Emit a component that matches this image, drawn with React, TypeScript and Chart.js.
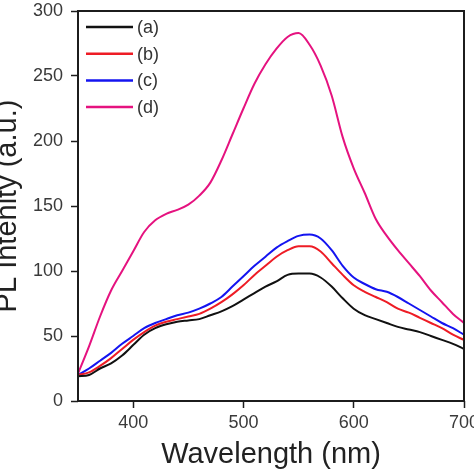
import React, { useEffect, useRef } from "react";
import { Chart, registerables } from "chart.js";

Chart.register(...registerables);

// Emission wavelength grid (nm)
const wavelengths = [
  350, 360, 370, 380, 390, 400, 410, 420, 430, 440, 450, 460, 470, 480, 490, 500, 510, 520,
  530, 540, 550, 560, 570, 580, 590, 600, 610, 620, 630, 640, 650, 660, 670, 680, 690, 700,
];

// PL intensity (a.u.) for each sample
const seriesA = [
  19, 20, 25, 29, 35, 43, 51, 56, 59, 61, 62, 63, 66, 69, 73, 78, 83, 88,
  92, 97, 98, 98, 95, 88, 79, 71, 66, 63, 60, 57, 55, 53, 50, 47, 44, 40,
];
const seriesB = [
  20, 22, 27, 33, 40, 47, 53, 58, 61, 63, 65, 67, 71, 76, 82, 89, 97, 104,
  111, 116, 119, 119, 115, 106, 97, 89, 84, 80, 76, 71, 68, 64, 60, 56, 51, 47,
];
const seriesC = [
  20, 25, 31, 37, 44, 50, 56, 60, 63, 66, 68, 71, 75, 80, 88, 96, 104, 111,
  118, 123, 127, 128, 125, 116, 104, 95, 90, 86, 84, 80, 75, 70, 65, 60, 56, 51,
];
const seriesD = [
  21, 42, 65, 85, 100, 115, 130, 139, 144, 147, 151, 158, 168, 185, 205, 225, 244, 259,
  271, 280, 283, 274, 258, 235, 203, 179, 160, 140, 127, 116, 106, 96, 85, 76, 67, 60,
];

const seriesLabels = ["(a)", "(b)", "(c)", "(d)"];
const seriesColors = ["#111111", "#ee1c25", "#1414f0", "#e5127f"];
const seriesValues = [seriesA, seriesB, seriesC, seriesD];

const xTickValues = [400, 500, 600, 700];
const yTickValues = [0, 50, 100, 150, 200, 250, 300];

const FONT = '"Liberation Sans", Arial, Helvetica, sans-serif';

// Box frame around the plotting area
const framePlugin = {
  id: "plotFrame",
  afterDatasetsDraw(chart: any) {
    const { ctx, chartArea } = chart;
    ctx.save();
    ctx.strokeStyle = "#1c1c1c";
    ctx.lineWidth = 2;
    ctx.strokeRect(chartArea.left, chartArea.top, chartArea.right - chartArea.left, chartArea.bottom - chartArea.top);
    ctx.restore();
  },
};

// Inset legend in the upper-left corner of the plot
const insetLegendPlugin = {
  id: "insetLegend",
  afterDatasetsDraw(chart: any) {
    const { ctx, chartArea } = chart;
    ctx.save();
    ctx.font = `18px ${FONT}`;
    ctx.textBaseline = "middle";
    ctx.textAlign = "left";
    chart.data.datasets.forEach((ds: any, i: number) => {
      const y = chartArea.top + 16 + i * 26.7;
      ctx.strokeStyle = ds.borderColor;
      ctx.lineWidth = 2.5;
      ctx.beginPath();
      ctx.moveTo(chartArea.left + 8, y);
      ctx.lineTo(chartArea.left + 55, y);
      ctx.stroke();
      ctx.fillStyle = "#333333";
      ctx.fillText(ds.label, chartArea.left + 59, y + 1);
    });
    ctx.restore();
  },
};

export default function App() {
  const canvasRef = useRef<HTMLCanvasElement | null>(null);

  useEffect(() => {
    if (!canvasRef.current) return;
    const datasets = seriesValues.map((vals, i) => ({
      label: seriesLabels[i],
      data: vals.map((v, j) => ({ x: wavelengths[j], y: v })),
      borderColor: seriesColors[i],
      backgroundColor: seriesColors[i],
      borderWidth: 2,
      pointRadius: 0,
      cubicInterpolationMode: "monotone" as const,
      fill: false,
    }));

    const chart = new Chart(canvasRef.current, {
      type: "line",
      data: { datasets },
      options: {
        responsive: false,
        animation: false,
        layout: { padding: { top: 19, right: 27, left: 0, bottom: 0 } },
        plugins: {
          legend: { display: false },
          tooltip: { enabled: false },
        },
        scales: {
          x: {
            type: "linear",
            min: 350,
            max: 700,
            afterBuildTicks: (scale: any) => {
              scale.ticks = xTickValues.map((v) => ({ value: v }));
            },
            afterFit: (scale: any) => {
              scale.height = 73;
            },
            border: { display: false },
            grid: {
              display: true,
              drawOnChartArea: false,
              drawTicks: true,
              tickLength: 7,
              tickColor: "#1c1c1c",
              tickWidth: 1.5,
            },
            ticks: {
              color: "#3a3a3a",
              font: { family: FONT, size: 18 },
              padding: 4,
              maxRotation: 0,
              autoSkip: false,
            },
            title: {
              display: true,
              text: "Wavelength (nm)",
              color: "#222222",
              font: { family: FONT, size: 29 },
              padding: { top: 0, bottom: 2 },
            },
          },
          y: {
            type: "linear",
            min: 0,
            max: 300,
            afterBuildTicks: (scale: any) => {
              scale.ticks = yTickValues.map((v) => ({ value: v }));
            },
            afterFit: (scale: any) => {
              scale.width = 87;
            },
            border: { display: false },
            grid: {
              display: true,
              drawOnChartArea: false,
              drawTicks: true,
              tickLength: 7,
              tickColor: "#1c1c1c",
              tickWidth: 1.5,
            },
            ticks: {
              color: "#3a3a3a",
              font: { family: FONT, size: 18 },
              padding: 8,
              autoSkip: false,
            },
            title: {
              display: true,
              text: "PL Intenity (a.u.)",
              color: "#222222",
              font: { family: FONT, size: 29 },
              padding: { top: 0, bottom: 0 },
            },
          },
        },
      },
      plugins: [framePlugin, insetLegendPlugin],
    });

    return () => chart.destroy();
  }, []);

  return (
    <div
      style={{
        position: "fixed",
        left: 0,
        top: 0,
        width: 474,
        height: 474,
        overflow: "hidden",
        background: "#ffffff",
      }}
    >
      <canvas
        ref={canvasRef}
        width={500}
        height={482}
        style={{ position: "absolute", left: -9, top: -8, width: 500, height: 482 }}
      />
    </div>
  );
}
